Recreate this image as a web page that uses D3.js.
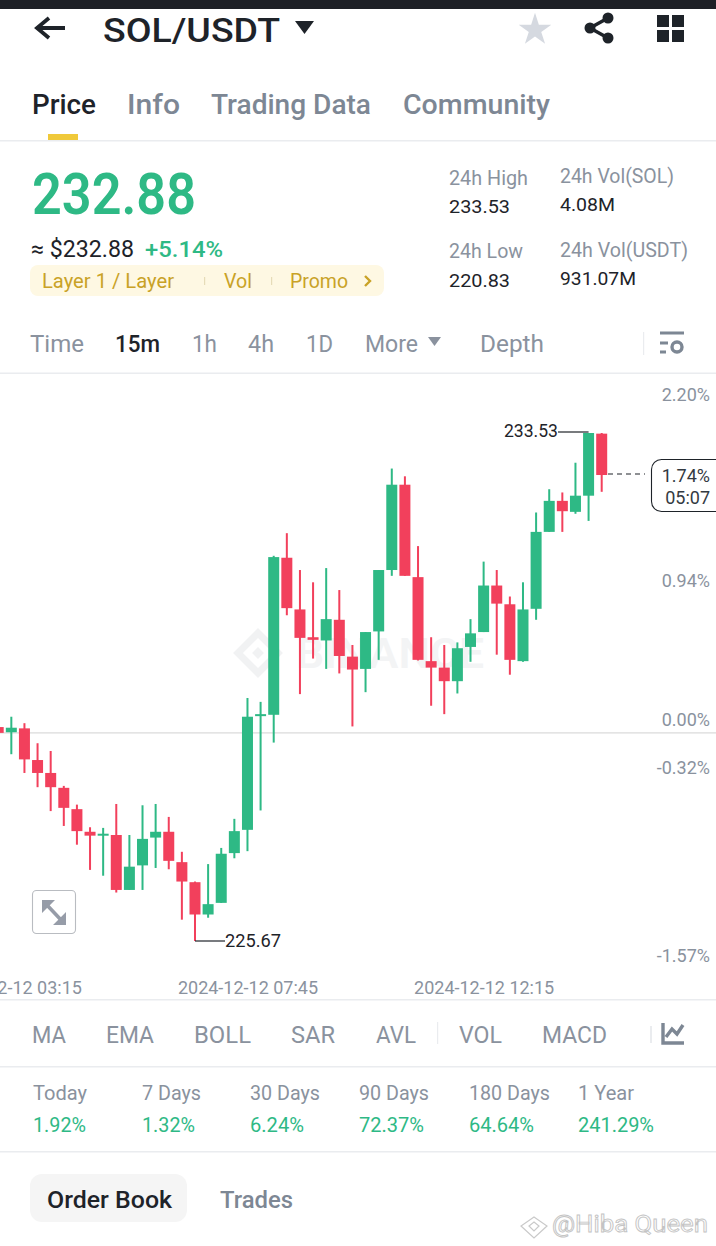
<!DOCTYPE html>
<html>
<head>
<meta charset="utf-8">
<script src="https://cdn.jsdelivr.net/npm/d3@7"></script>
<style>
  html, body { margin: 0; padding: 0; background: #fff; overflow: hidden; }
  svg { display: block; font-family: Roboto, sans-serif; }
</style>
</head>
<body>
<script>
// 15m candles. first one is cut by the left edge
var opens = [228.98,228.90,228.96,228.47,228.27,228.04,227.71,227.36,227.30,227.31,226.46,226.84,227.27,227.36,226.89,226.58,226.08,226.26,227.03,227.39,229.16,229.17,231.60,230.80,230.37,230.32,230.64,230.07,229.88,230.46,231.41,232.73,231.30,230.00,229.90,229.69,230.22,230.45,231.17,230.88,230.00,230.81,232.00,232.48,232.31,232.56,233.52];
var closes = [228.89,228.97,228.48,228.27,228.05,227.73,227.37,227.30,227.33,226.46,226.82,227.25,227.36,226.91,226.59,226.08,226.24,227.02,227.37,229.14,229.18,231.61,230.82,230.36,230.33,230.65,230.08,229.87,230.45,231.41,232.73,231.32,230.02,229.90,229.69,230.20,230.43,231.17,230.89,230.02,230.80,232.00,232.48,232.32,232.56,233.53,232.88];
var highs = [228.98,229.14,229.04,228.73,228.61,228.07,227.78,227.43,227.42,227.79,227.31,227.77,227.79,227.59,227.05,226.59,226.86,227.11,227.56,229.43,229.37,231.63,231.98,231.41,231.22,231.44,231.10,230.25,230.45,231.41,232.98,232.86,231.78,230.37,230.25,230.29,230.65,231.54,231.41,231.00,231.22,232.30,232.66,232.61,233.07,233.53,233.53];
var lows = [228.89,228.56,228.27,228.05,227.68,227.45,227.16,226.77,226.68,226.42,226.46,226.46,226.80,226.78,226.00,225.67,226.03,226.26,226.95,227.06,227.69,228.74,230.71,229.49,230.04,229.88,229.81,228.99,229.52,230.02,231.32,231.32,230.01,229.31,229.18,229.50,229.99,230.45,230.10,229.79,229.99,230.64,232.00,232.00,232.28,232.17,232.62];

var firstCandle = new Date(2024, 11, 12, 3, 0);
var lastCandle = new Date(2024, 11, 12, 14, 30);
var timeTicks = [new Date(2024, 11, 12, 3, 15), new Date(2024, 11, 12, 7, 45), new Date(2024, 11, 12, 12, 15)];

var basePrice = 228.89;
var highPrice = 233.53;
var lowPrice = 225.67;
var pctTicks = [2.20, 0.94, 0.00, -0.32, -1.57];

var tabs = ["Price", "Info", "Trading Data", "Community"];
var intervals = ["Time", "15m", "1h", "4h", "1D", "More", "Depth"];
var indicators = ["MA", "EMA", "BOLL", "SAR", "AVL", "VOL", "MACD"];
var periods = ["Today", "7 Days", "30 Days", "90 Days", "180 Days", "1 Year"];
var periodChanges = ["1.92%", "1.32%", "6.24%", "72.37%", "64.64%", "241.29%"];

var green = "#2eb985", red = "#f2405c", dark = "#1e2329", grey = "#7d8794", soft = "#8a929e", rule = "#eaecef";

var svg = d3.select("body").append("svg")
  .attr("width", 716)
  .attr("height", 1246);

// text helper, w squeezes the string to the width it has in the screenshot
function txt(x, y, s, size, color, w, weight) {
  var t = svg.append("text")
    .attr("x", x).attr("y", y)
    .attr("font-size", size)
    .attr("fill", color)
    .attr("font-weight", weight || 400)
    .text(s);
  if (w) t.attr("textLength", w).attr("lengthAdjust", "spacingAndGlyphs");
  return t;
}

function hline(y) {
  svg.append("rect").attr("x", 0).attr("y", y).attr("width", 716).attr("height", 1.5).attr("fill", rule);
}

// ---- header
svg.append("rect").attr("width", 716).attr("height", 9).attr("fill", "#1e2026");
svg.append("path").attr("d", "M65 28H38M49 18L37 28L49 38").attr("fill", "none").attr("stroke", dark).attr("stroke-width", 3.8);
txt(103, 42, "SOL/USDT", 33, dark, 177, 500);
svg.append("path").attr("d", "M295 21H314L304.5 34Z").attr("fill", dark);
svg.append("path").attr("d", d3.symbol().type(d3.symbolStar).size(330)()).attr("transform", "translate(535,30)").attr("fill", "#d5d9e0");
svg.append("path").attr("d", "M608 18L590 28L608 38").attr("fill", "none").attr("stroke", dark).attr("stroke-width", 3.5);
svg.selectAll(".node").data([[608, 18], [590, 28], [608, 38]]).enter().append("circle")
  .attr("cx", function(d) { return d[0]; }).attr("cy", function(d) { return d[1]; }).attr("r", 5.5).attr("fill", dark);
svg.selectAll(".gridIcon").data([[657, 15], [672, 15], [657, 30], [672, 30]]).enter().append("rect")
  .attr("x", function(d) { return d[0]; }).attr("y", function(d) { return d[1]; })
  .attr("width", 12).attr("height", 12).attr("fill", dark);

// ---- tabs
var tabX = [[32, 64], [127, 53], [211, 160], [403, 147]];
tabs.forEach(function(t, i) {
  txt(tabX[i][0], 114, t, 28, i == 0 ? dark : grey, tabX[i][1], 500);
});
svg.append("rect").attr("x", 48).attr("y", 134).attr("width", 30).attr("height", 6).attr("fill", "#f0c93a");
hline(140);

// ---- price block
txt(32, 214, "232.88", 58, green, 164, 600);
txt(31, 257, "≈ $232.88", 23, dark, 103);
txt(145, 257, "+5.14%", 22, green, 78, 500);
svg.append("rect").attr("x", 30).attr("y", 265).attr("width", 354).attr("height", 31).attr("rx", 8).attr("fill", "#fef8e3");
txt(42, 288, "Layer 1 / Layer", 21, "#c9a227", 132);
txt(224, 288, "Vol", 21, "#c9a227", 28);
txt(290, 288, "Promo", 21, "#c9a227", 58);
svg.append("path").attr("d", "M365 276L370 281L365 286").attr("fill", "none").attr("stroke", "#c9a227").attr("stroke-width", 2.4);
[204, 271].forEach(function(x) {
  svg.append("rect").attr("x", x).attr("y", 277).attr("width", 1.2).attr("height", 8).attr("fill", "#e6dcb8");
});

txt(449, 185, "24h High", 20, soft, 79);
txt(449, 213, "233.53", 19, dark, 61);
txt(560, 183, "24h Vol(SOL)", 20, soft, 114);
txt(560, 211, "4.08M", 19, dark, 55);
txt(449, 258, "24h Low", 20, soft, 74);
txt(449, 287, "220.83", 19, dark, 61);
txt(560, 257, "24h Vol(USDT)", 20, soft, 128);
txt(560, 285, "931.07M", 19, dark, 76);

// ---- interval row
var intervalX = [[30, 54], [115, 45], [192, 25], [248, 26], [306, 27], [365, 53], [480, 64]];
intervals.forEach(function(t, i) {
  txt(intervalX[i][0], 352, t, 24, i == 1 ? dark : soft, intervalX[i][1], i == 1 ? 500 : 400);
});
svg.append("path").attr("d", "M428 337H441L434.5 346Z").attr("fill", soft);
svg.append("rect").attr("x", 643).attr("y", 332).attr("width", 1.2).attr("height", 23).attr("fill", rule);
svg.append("path").attr("d", "M660 333H684M660 343H668M660 352H666").attr("fill", "none").attr("stroke", grey).attr("stroke-width", 3.2);
svg.append("circle").attr("cx", 677).attr("cy", 347).attr("r", 5).attr("fill", "none").attr("stroke", grey).attr("stroke-width", 3.4);
hline(372.5);

// ---- watermark behind the candles
svg.append("path")
  .attr("d", d3.symbol().type(d3.symbolSquare).size(800)())
  .attr("transform", "translate(258,653) rotate(45)")
  .attr("fill", "none").attr("stroke", "#f1f2f3").attr("stroke-width", 7);
svg.append("path")
  .attr("d", d3.symbol().type(d3.symbolSquare).size(70)())
  .attr("transform", "translate(258,653) rotate(45)")
  .attr("fill", "#f1f2f3");
txt(296, 668, "BINANCE", 42, "#f3f4f5", 188, 600);

// ---- chart
var x = d3.scaleTime().domain([firstCandle, lastCandle]).range([-1.8, 601.7]);
var y = d3.scaleLinear().domain([lowPrice, highPrice]).range([941, 433]);

var candles = opens.map(function(o, i) {
  return { t: d3.timeMinute.offset(firstCandle, i * 15), o: o, c: closes[i], h: highs[i], l: lows[i] };
});

svg.append("rect").attr("x", 0).attr("y", y(basePrice) - 0.6).attr("width", 716).attr("height", 1.2).attr("fill", "#d9d9d9");

function candleColor(d) { return d.c >= d.o ? green : red; }

var candle = svg.selectAll(".candle").data(candles).enter().append("g").attr("class", "candle");
candle.append("rect")
  .attr("x", function(d) { return x(d.t) - 1; })
  .attr("y", function(d) { return y(d.h); })
  .attr("width", 2)
  .attr("height", function(d) { return y(d.l) - y(d.h); })
  .attr("fill", candleColor);
candle.append("rect")
  .attr("x", function(d) { return x(d.t) - 5.5; })
  .attr("y", function(d) { return y(Math.max(d.o, d.c)); })
  .attr("width", 11)
  .attr("height", function(d) { return Math.max(2, Math.abs(y(d.o) - y(d.c))); })
  .attr("fill", candleColor);

// right side percent scale, labels sit above their level
var pctLabels = svg.selectAll(".pct").data(pctTicks).enter().append("text")
  .attr("class", "pct")
  .attr("x", 710)
  .attr("y", function(d, i) {
    var py = y(basePrice * (1 + d / 100));
    return py + (i == pctTicks.length - 1 ? -3.5 : -6.5);
  })
  .attr("text-anchor", "end")
  .attr("font-size", 18)
  .attr("fill", soft)
  .text(function(d) { return d.toFixed(2) + "%"; });

// time axis
var xAxis = d3.axisBottom(x)
  .tickValues(timeTicks)
  .tickSize(0)
  .tickFormat(d3.timeFormat("%Y-%m-%d %H:%M"));
var axisG = svg.append("g").attr("transform", "translate(0,976)").call(xAxis);
axisG.select(".domain").remove();
axisG.selectAll("text").attr("font-size", 18).attr("font-family", "Roboto, sans-serif").attr("fill", soft).attr("dy", 0).attr("y", 18);

// high / low markers
var hiIdx = highs.indexOf(highPrice), loIdx = lows.indexOf(lowPrice);
svg.append("line").attr("x1", 558).attr("x2", x(candles[hiIdx].t)).attr("y1", y(highPrice) - 1).attr("y2", y(highPrice) - 1).attr("stroke", dark).attr("stroke-width", 1.2);
txt(504, 437, highPrice.toFixed(2), 17.5, dark, 54);
svg.append("line").attr("x1", x(candles[loIdx].t)).attr("x2", 225).attr("y1", y(lowPrice)).attr("y2", y(lowPrice)).attr("stroke", dark).attr("stroke-width", 1.2);
txt(225, 947, lowPrice.toFixed(2), 17.5, dark, 56);

// last price tag
var lastY = y(closes[closes.length - 1]);
svg.append("line").attr("x1", 608).attr("x2", 645).attr("y1", lastY - 1).attr("y2", lastY - 1).attr("stroke", dark).attr("stroke-width", 1.1).attr("stroke-dasharray", "5 4");
svg.append("rect").attr("x", 651.5).attr("y", 459.5).attr("width", 80).attr("height", 52).attr("rx", 10).attr("fill", "#fff").attr("stroke", dark).attr("stroke-width", 1.1);
txt(710, 482, "1.74%", 18, "#333a42").attr("text-anchor", "end");
txt(710, 504, "05:07", 18, "#333a42").attr("text-anchor", "end");

// expand button
svg.append("rect").attr("x", 32.5).attr("y", 890.5).attr("width", 43).attr("height", 43).attr("rx", 4).attr("fill", "#fff").attr("stroke", "#b9bcc1").attr("stroke-width", 1.1);
svg.append("path").attr("d", "M46 904L62 921").attr("stroke", "#969ca8").attr("stroke-width", 3.6);
svg.append("path").attr("d", "M42 900H55L42 913ZM66 925H53L66 912Z").attr("fill", "#969ca8");

hline(999);

// ---- indicators row
var indicatorX = [[32, 34], [106, 48], [194, 57], [291, 44], [376, 40], [459, 43], [542, 65]];
indicators.forEach(function(t, i) {
  txt(indicatorX[i][0], 1043, t, 24, soft, indicatorX[i][1]);
});
svg.append("rect").attr("x", 437).attr("y", 1022).attr("width", 1.2).attr("height", 22).attr("fill", rule);
svg.append("rect").attr("x", 650).attr("y", 1026).attr("width", 2).attr("height", 17).attr("fill", rule);
svg.append("path").attr("d", "M663 1023V1043H684M666 1037L672 1029L677 1034L683 1025").attr("fill", "none").attr("stroke", grey).attr("stroke-width", 3.4);
hline(1066);

// ---- period changes
var periodX = [[33, 54], [142, 59], [250, 70], [359, 70], [469, 81], [578, 56]];
var changeW = [53, 53, 54, 65, 65, 76];
periods.forEach(function(t, i) {
  txt(periodX[i][0], 1100, t, 20, soft, periodX[i][1]);
  txt(periodX[i][0], 1132, periodChanges[i], 20, green, changeW[i]);
});
hline(1151);

// ---- order book tabs
svg.append("rect").attr("x", 30).attr("y", 1174).attr("width", 157).attr("height", 48).attr("rx", 12).attr("fill", "#f5f5f5");
txt(47, 1208, "Order Book", 24, dark, 125, 500);
txt(220, 1208, "Trades", 24, grey, 73, 500);

// ---- uploader mark
svg.append("path").attr("d", "M534 1217L547 1226L534 1238L521 1226ZM534 1222L539 1226L534 1231L529 1226Z")
  .attr("fill", "#fff").attr("stroke", "#c9c9c9").attr("stroke-width", 1.2);
txt(552, 1232, "@Hiba Queen", 24, "#fff", 156).attr("stroke", "#c4c4c4").attr("stroke-width", 0.9);
</script>
</body>
</html>
